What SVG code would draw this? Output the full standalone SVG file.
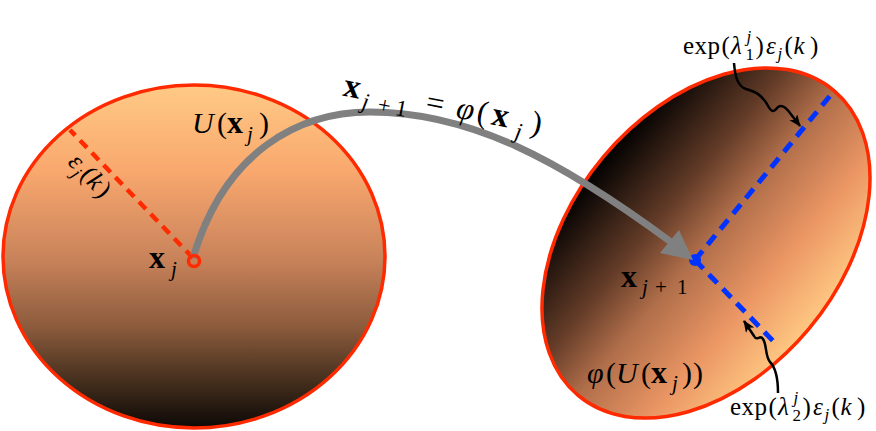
<svg xmlns="http://www.w3.org/2000/svg" width="876" height="431" viewBox="0 0 876 431">
<defs>
  <linearGradient id="gL" x1="0" y1="85" x2="0" y2="428" gradientUnits="userSpaceOnUse">
    <stop offset="0" stop-color="#ffca85"/>
    <stop offset="0.25" stop-color="#f9a86e"/>
    <stop offset="0.51" stop-color="#c8825a"/>
    <stop offset="0.71" stop-color="#8a5a3c"/>
    <stop offset="0.86" stop-color="#46301e"/>
    <stop offset="1" stop-color="#0c0805"/>
  </linearGradient>
  <linearGradient id="gR" x1="706" y1="109" x2="706" y2="377" gradientUnits="userSpaceOnUse">
    <stop offset="0" stop-color="#000000"/>
    <stop offset="0.31" stop-color="#643c28"/>
    <stop offset="0.5" stop-color="#b06e4a"/>
    <stop offset="0.76" stop-color="#eb9664"/>
    <stop offset="1" stop-color="#ffc882"/>
  </linearGradient>
  <marker id="ah" viewBox="0 0 12 10" refX="11" refY="5" markerWidth="12" markerHeight="10" markerUnits="userSpaceOnUse" orient="auto">
    <path d="M0,0 L12,5 L0,10 L3,5 z" fill="#000"/>
  </marker>
  <style>
    .region { stroke: #ff2a00; stroke-width: 3.5; }
    .t { font-family: "Liberation Serif", "DejaVu Serif", serif; fill: #000; }
    .it { font-style: italic; }
    .b { font-weight: bold; }
    .reddash { stroke: #ff2a00; stroke-width: 4.5; stroke-dasharray: 10 7; fill: none; }
    .bluedash { stroke: #0033ff; stroke-width: 5; stroke-dasharray: 12 8; fill: none; }
    .snake { stroke: #000; stroke-width: 2.5; fill: none; marker-end: url(#ah); }
    .map { stroke: #808080; stroke-width: 7; fill: none; }
  </style>
</defs>
<rect width="876" height="431" fill="#fff"/>

<g id="left-region">
  <ellipse cx="194" cy="256.5" rx="191" ry="171.5" fill="url(#gL)" class="region"/>
  <line x1="193" y1="258" x2="70" y2="130" class="reddash"/>
  <text class="t" font-size="30" y="133"><tspan class="it" x="192">U</tspan><tspan x="217">(</tspan><tspan class="b" x="227" font-size="32">x</tspan><tspan class="it" x="247" y="141" font-size="21">j</tspan><tspan x="259" y="133">)</tspan></text>
  <text class="t" transform="translate(67,163) rotate(47)" font-size="26"><tspan class="it" x="0">ε</tspan><tspan class="it" x="11.5" y="6" font-size="18">j</tspan><tspan x="18" y="0">(</tspan><tspan class="it" x="27">k</tspan><tspan x="41">)</tspan></text>
  <text class="t" font-size="30" y="268"><tspan class="b" x="149" font-size="32">x</tspan><tspan class="it" x="171" y="276" font-size="21">j</tspan></text>
</g>

<g id="right-region">
  <ellipse cx="706" cy="243" rx="199" ry="134" transform="rotate(-50 706 243)" fill="url(#gR)" class="region"/>
  <line x1="695" y1="260" x2="834" y2="91" class="bluedash"/>
  <line x1="695" y1="260" x2="776" y2="344" class="bluedash"/>
  <circle cx="695" cy="260" r="6" fill="#0033ff"/>
  <text class="t" font-size="30" y="287"><tspan class="b" x="621" font-size="32">x</tspan><tspan class="it" x="642" y="294" font-size="21">j</tspan><tspan x="655" y="294" font-size="21">+</tspan><tspan x="677" y="294" font-size="21">1</tspan></text>
  <text class="t" font-size="30" y="383"><tspan class="it" x="587">φ</tspan><tspan x="606">(</tspan><tspan class="it" x="616">U</tspan><tspan x="641">(</tspan><tspan class="b" x="651" font-size="32">x</tspan><tspan class="it" x="672" y="390" font-size="21">j</tspan><tspan x="682" y="383">)</tspan><tspan x="693">)</tspan></text>
</g>

<g id="label-lambda1">
  <text class="t" font-size="25" y="54"><tspan x="683 694.5 707.5">exp</tspan><tspan x="721.5">(</tspan><tspan class="it" x="731">λ</tspan><tspan class="it" x="746.5" y="42" font-size="17">j</tspan><tspan x="745.5" y="60" font-size="17">1</tspan><tspan x="755.5" y="54">)</tspan><tspan class="it" x="766">ε</tspan><tspan class="it" x="777.5" y="59" font-size="17">j</tspan><tspan x="784.5" y="54">(</tspan><tspan class="it" x="793.5">k</tspan><tspan x="810">)</tspan></text>
</g>

<g id="label-lambda2">
  <text class="t" font-size="25" y="415"><tspan x="730 741.5 754.5">exp</tspan><tspan x="768.5">(</tspan><tspan class="it" x="778">λ</tspan><tspan class="it" x="793.5" y="403" font-size="17">j</tspan><tspan x="792.5" y="421" font-size="17">2</tspan><tspan x="802.5" y="415">)</tspan><tspan class="it" x="813">ε</tspan><tspan class="it" x="824.5" y="420" font-size="17">j</tspan><tspan x="831.5" y="415">(</tspan><tspan class="it" x="840.5">k</tspan><tspan x="857">)</tspan></text>
</g>

<g id="connectors">
  <path d="M193,258 C225,150 300,112 370,112 C470,112 560,160 671,242" class="map"/>
  <polygon points="693,260 660,253 679,230" fill="#808080"/>
  <circle cx="194" cy="261" r="5.5" fill="none" stroke="#ff2a00" stroke-width="3.5"/>
  <text class="t" font-size="32" transform="translate(342,95.5) rotate(11)"><tspan class="b" x="0" font-size="34">x</tspan><tspan class="it" x="21" y="9" font-size="23">j</tspan><tspan x="37" y="9" font-size="23">+</tspan><tspan x="55" y="9" font-size="23">1</tspan><tspan x="84" y="0">=</tspan><tspan class="it" x="115">φ</tspan><tspan x="136">(</tspan><tspan class="b" x="151" font-size="34">x</tspan><tspan class="it" x="177" y="9" font-size="23">j</tspan><tspan x="191" y="0">)</tspan></text>
  <path d="M734,63 C735,75 737,86 746,89 C757,92 762,96 767,104 C770,110 773,114 777,108 C780,104 785,106 790,113 L800,126" class="snake"/>
  <path d="M778,393 C778,378 776,368 770,362 C765,356 767,345 763,339 C760,334 757,342 754,336 L744,321" class="snake"/>
</g>
</svg>
